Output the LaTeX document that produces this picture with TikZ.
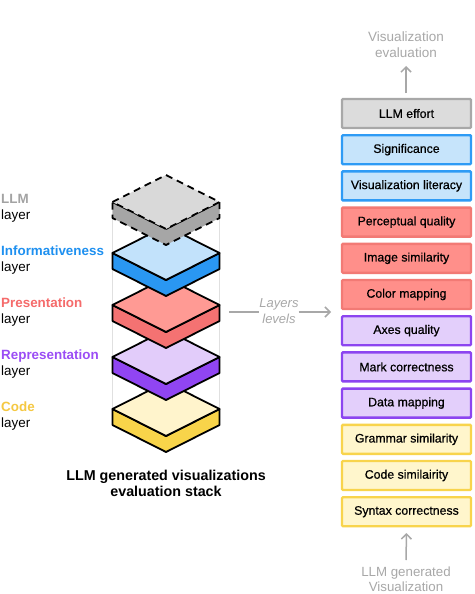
\documentclass[tikz,border=0pt]{standalone}
\usepackage{fontspec}
\setmainfont{Liberation Sans}
\newfontfamily\medfont[FakeBold=0.6]{Liberation Sans}
\usetikzlibrary{arrows.meta}
\definecolor{gtxt}{HTML}{A8A8A8}
\definecolor{llmtop}{HTML}{D9D9D9}
\definecolor{llmside}{HTML}{A6A6A6}
\definecolor{infotop}{HTML}{C2E2FB}
\definecolor{infoside}{HTML}{2A97F2}
\definecolor{pretop}{HTML}{FF9A94}
\definecolor{preside}{HTML}{F47272}
\definecolor{reptop}{HTML}{E2CCFA}
\definecolor{repside}{HTML}{9045F2}
\definecolor{codetop}{HTML}{FFF4CC}
\definecolor{codeside}{HTML}{F8D44A}
\definecolor{llmtxt}{HTML}{A3A3A3}
\definecolor{infotxt}{HTML}{1E90F0}
\definecolor{pretxt}{HTML}{F56B6B}
\definecolor{reptxt}{HTML}{9B4DF5}
\definecolor{codetxt}{HTML}{F5C842}
\definecolor{bgray}{HTML}{A8A8A8}\definecolor{fgray}{HTML}{DCDCDC}
\definecolor{bblue}{HTML}{2E9BF5}\definecolor{fblue}{HTML}{C6E4FB}
\definecolor{bred}{HTML}{F27A75}\definecolor{fred}{HTML}{FF8F8A}
\definecolor{bpur}{HTML}{8C45F0}\definecolor{fpur}{HTML}{E3CFFB}
\definecolor{byel}{HTML}{F8D44C}\definecolor{fyel}{HTML}{FFF6CC}
\tikzset{
  metric/.style={draw=#1, line width=2.4pt, rounded corners=1pt, minimum width=129pt,
    minimum height=29pt, inner sep=0pt, font=\medfont\fontsize{12.3}{14}\selectfont},
  layerlbl/.style={anchor=west, align=left, inner sep=0pt, font=\fontsize{13.4}{16}\selectfont},
  grayarrow/.style={draw=gtxt, line width=1.5pt, -{Straight Barb[length=5pt,width=10pt]}},
  grayline/.style={draw=gtxt, line width=1.5pt},
  graytxt/.style={text=gtxt, align=center, inner sep=0pt, font=\fontsize{13.5}{16}\selectfont},
  layeredge/.style={draw=black, line width=1.8pt, line join=round},
}
\newcommand\drawlayer[4]{% y, top colour, side colour, extra style
  \filldraw[layeredge,fill=#3,#4] (112.5,#1) -- (166,#1+27) -- (219.5,#1) -- (219.5,#1+16) -- (166,#1+43) -- (112.5,#1+16) -- cycle;
  \filldraw[layeredge,fill=#2,#4] (112.5,#1) -- (166,#1-27) -- (219.5,#1) -- (166,#1+27) -- cycle;
}
\begin{document}
\begin{tikzpicture}[x=1pt,y=-1pt]
\useasboundingbox[fill=white] (0,0) rectangle (474,594);
% guide lines
\draw[black!12, line width=0.5pt] (112.5,210) -- (112.5,425);
\draw[black!12, line width=0.5pt] (219.5,210) -- (219.5,425);
% stack (bottom first)
\drawlayer{409}{codetop}{codeside}{}
\drawlayer{357}{reptop}{repside}{}
\drawlayer{305}{pretop}{preside}{}
\drawlayer{253}{infotop}{infoside}{}
\drawlayer{202}{llmtop}{llmside}{dash pattern=on 7pt off 5pt}
% layer labels
\node[layerlbl] (lllm) at (1,208) {\textcolor{llmtxt}{\bfseries LLM}\\layer};
\node[layerlbl] (linfo) at (1,260) {\textcolor{infotxt}{\bfseries Informativeness}\\layer};
\node[layerlbl] (lpre) at (1,312) {\textcolor{pretxt}{\bfseries Presentation}\\layer};
\node[layerlbl] (lrep) at (1,364) {\textcolor{reptxt}{\bfseries Representation}\\layer};
\node[layerlbl] (lcode) at (1,416) {\textcolor{codetxt}{\bfseries Code}\\layer};
% title
\node[align=center, inner sep=0pt, font=\bfseries\fontsize{14.3}{16}\selectfont] (title) at (166,483) {LLM generated visualizations\\evaluation stack};
% metric boxes
\foreach \t/\b/\f [count=\i from 0] in {
  LLM effort/bgray/fgray,
  Significance/bblue/fblue,
  Visualization literacy/bblue/fblue,
  Perceptual quality/bred/fred,
  Image similarity/bred/fred,
  Color mapping/bred/fred,
  Axes quality/bpur/fpur,
  Mark correctness/bpur/fpur,
  Data mapping/bpur/fpur,
  Grammar similarity/byel/fyel,
  Code similairity/byel/fyel,
  Syntax correctness/byel/fyel}
  \node[metric=\b, fill=\f] (m\i) at (406.5,113.5+36.2*\i) {\t};
% top / bottom texts and arrows
\node[graytxt] (vizeval) at (406,45) {Visualization\\evaluation};
\coordinate (topstart) at (406,93);
\draw[grayarrow] (topstart) -- (vizeval.south |- 0,66);
\node[graytxt, anchor=south, font=\fontsize{13.3}{15.5}\selectfont] (llmgen) at (406,592) {LLM generated\\Visualization};
\draw[grayarrow] (llmgen.north |- 0,560) -- (m11.south |- 0,533);
% layers levels
\node[graytxt, font=\itshape\fontsize{13}{16}\selectfont] (levels) at (279,311) {Layers\\levels};
\coordinate (stackside) at (229,312);
\coordinate (boxside) at (331,312);
\draw[grayline] (stackside) -- (levels.west |- stackside);
\draw[grayarrow] (levels.east |- stackside) -- (boxside);
\end{tikzpicture}
\end{document}
